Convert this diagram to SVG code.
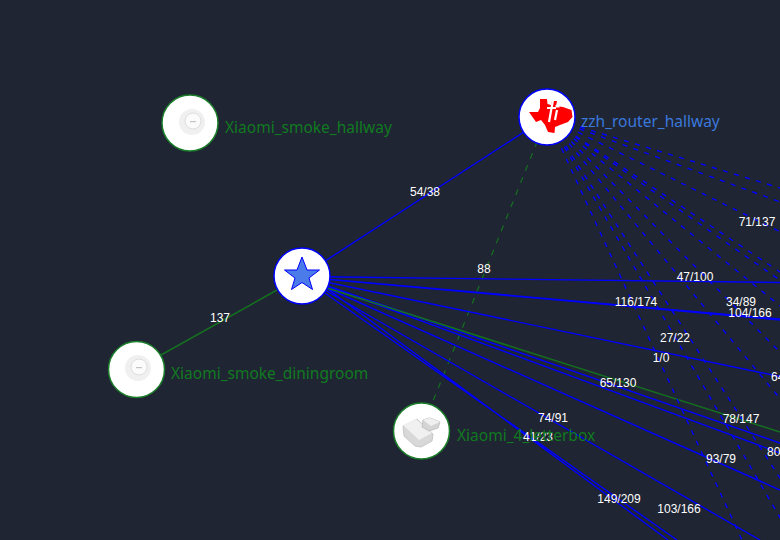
<svg xmlns="http://www.w3.org/2000/svg" width="780" height="540" viewBox="0 0 780 540">
<style>
.s{fill:none;stroke:#0000ff;stroke-width:1.4}
.d{fill:none;stroke:#0000ff;stroke-width:1.4;stroke-dasharray:5 6.5}
.g{fill:none;stroke:#15701f;stroke-width:1.5}
.gd{fill:none;stroke:#15701f;stroke-width:1.2;stroke-dasharray:6 7}
.el{font:12px "Liberation Sans",Arial,sans-serif;fill:#fff;text-anchor:middle}
.nl{font:15.5px "Noto Sans","Open Sans",sans-serif}
.ng{fill:#117a20}
.nb{fill:#3a78dc}
.cg{fill:#fff;stroke:#1b7f2a;stroke-width:1.5}
.cb{fill:#fff;stroke:#0000ff;stroke-width:1.5}
</style>
<rect width="780" height="540" fill="#1f2533"/>
<g id="connectors">
<line class="s" x1="302" y1="276" x2="547" y2="117"/>
<line class="g" x1="302" y1="276" x2="136" y2="369"/>
<line class="gd" x1="547" y1="117" x2="421" y2="431"/>
<path class="s" d="M302 276.5L780 282.5M302 277L780 320M302 277L780 319M302 277L780 376.5M302 277L780 443M302 277L780 453M302 277L780 490M302 277L760 540M302 277L677 540M310 276L668 540"/>
<line class="g" x1="302" y1="280" x2="780" y2="432"/>
<path class="d" d="M547 117L742 540M547 117L793 540M547 117L820 540M547 117L897 540M547 117L966 540M547 117L1069 540M547 117L1151 540M547 117L1183 540M547 117L1000 255M547 117L1000 282M547 117L1000 340"/>
</g>
<g id="edge-labels">
<text class="el" x="425" y="196">54/38</text>
<text class="el" x="220" y="322">137</text>
<text class="el" x="484" y="273">88</text>
<text class="el" x="757" y="226">71/137</text>
<text class="el" x="695" y="281">47/100</text>
<text class="el" x="636" y="306">116/174</text>
<text class="el" x="741" y="306">34/89</text>
<text class="el" x="750" y="317">104/166</text>
<text class="el" x="675" y="342">27/22</text>
<text class="el" x="661" y="362">1/0</text>
<text class="el" x="618" y="387">65/130</text>
<text class="el" x="771" y="381" style="text-anchor:start">64/</text>
<text class="el" x="741" y="423">78/147</text>
<text class="el" x="767" y="456" style="text-anchor:start">80/</text>
<text class="el" x="721" y="463">93/79</text>
<text class="el" x="553" y="422">74/91</text>
<text class="el" x="538" y="441">41/23</text>
<text class="el" x="619" y="503">149/209</text>
<text class="el" x="679" y="513">103/166</text>
</g>
<g id="node-hallway-smoke">
<circle class="cg" cx="190" cy="123" r="28"/>
<circle cx="192" cy="122" r="13" fill="#f0f0f0"/>
<circle cx="193" cy="121" r="8" fill="#fbfbfb" stroke="#dedede"/>
<rect x="190" y="121" width="6" height="1.2" fill="#c4c4c4"/>
<text class="nl ng" x="225" y="133">Xiaomi_smoke_hallway</text>
</g>
<g id="node-diningroom-smoke">
<circle class="cg" cx="136.500" cy="369.500" r="28"/>
<circle cx="138" cy="368" r="13" fill="#f0f0f0"/>
<circle cx="139" cy="367" r="8" fill="#fbfbfb" stroke="#dedede"/>
<rect x="136" y="367" width="6" height="1.2" fill="#c4c4c4"/>
<text class="nl ng" x="171" y="379">Xiaomi_smoke_diningroom</text>
</g>
<g id="node-letterbox">
<circle class="cg" cx="421.500" cy="431" r="28"/>
<path d="M403 426L417 419L433 434L432 441L421 447L415 446L404 436Z" fill="#d8d8d8" stroke="#c8c8c8"/>
<path d="M403 425L416 419L432 433L419 440Z" fill="#f0f0f0"/>
<path d="M423 420L430 418L440 422L438 428L429 431L422 427Z" fill="#d4d4d4" stroke="#c4c4c4"/>
<path d="M423 420L430 418L440 422L431 426Z" fill="#f0f0f0"/>
<text class="nl ng" x="457" y="441">Xiaomi_4_letterbox</text>
</g>
<g id="node-hub">
<circle class="cb" cx="302" cy="276" r="28"/>
<polygon points="302,257 307,270 319.5,270 309,278 312.5,289.5 302,282.5 291.500,289.5 295,278 284.5,270 297,270" fill="#4a7be8" stroke="#0000ff" stroke-width="1"/>
</g>
<g id="node-router">
<circle class="cb" cx="547" cy="117" r="28"/>
<polygon points="540,99 547,99 547.5,104 551,105 552,101 557,101 556,106 563,107 571.5,110 572.5,117 568,122 560,125 555,127 554.5,133 548,132 545,125 541,120 536,122 529,112 538,112 540,108" fill="#ff0000"/>
<path d="M553 100L549 122M547 108H556M557 110L555 120" stroke="#fff" stroke-width="2.200" fill="none"/>
<rect x="555.500" y="105" width="4" height="2.500" fill="#fff"/>
<text class="nl nb" x="581" y="127">zzh_router_hallway</text>
</g>
</svg>
